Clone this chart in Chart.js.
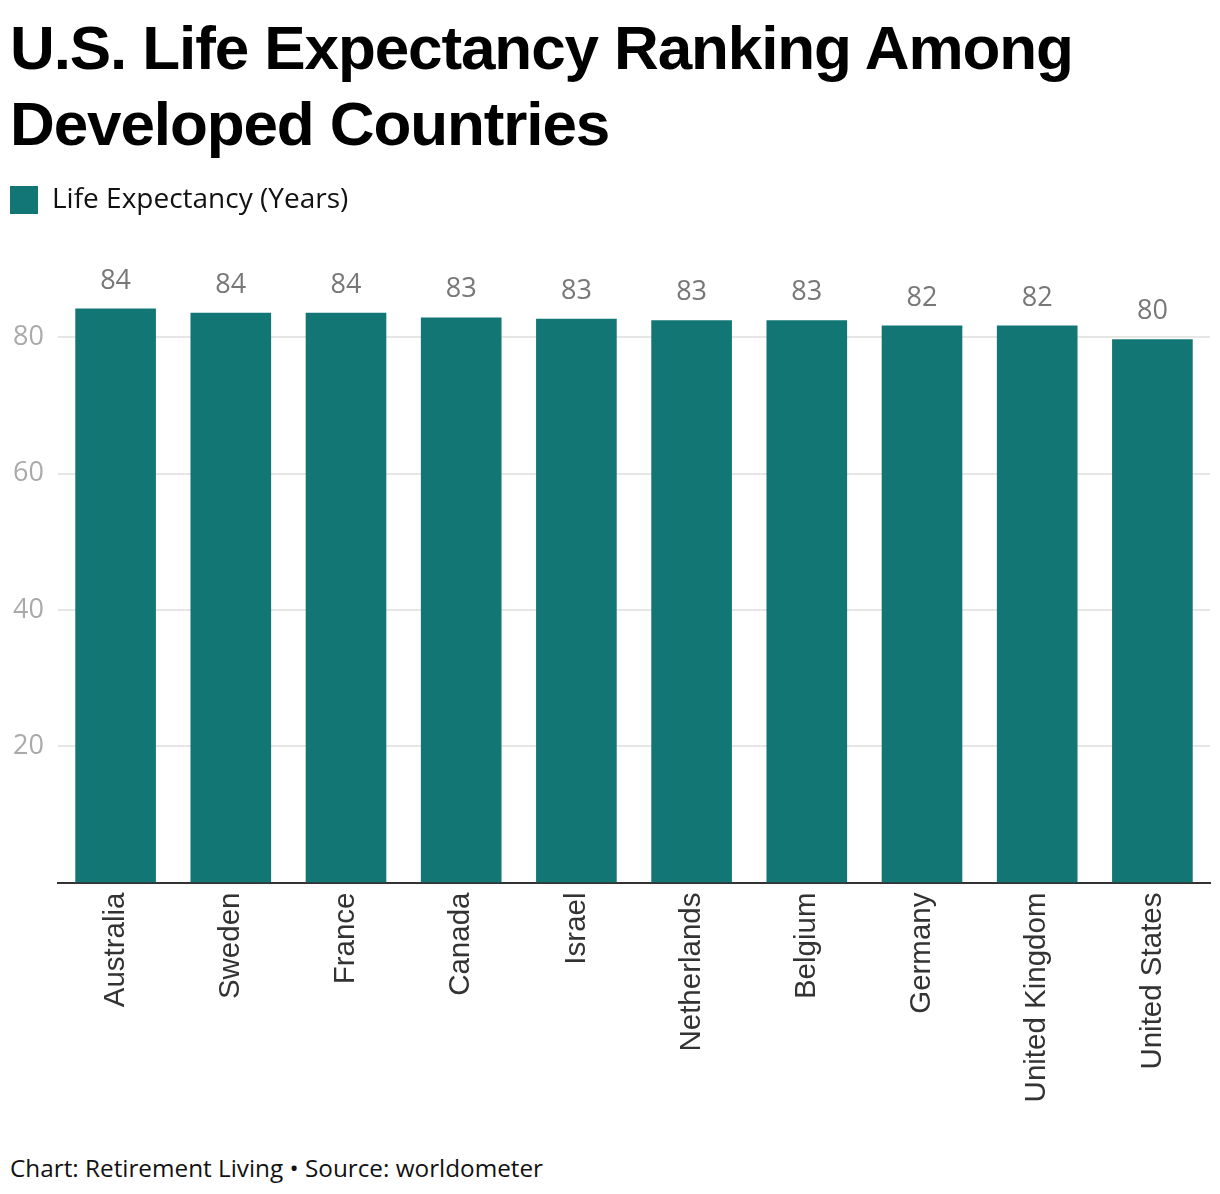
<!DOCTYPE html>
<html>
<head>
<meta charset="utf-8">
<script src="https://cdn.jsdelivr.net/npm/chart.js@4/dist/chart.umd.min.js"></script>
<style>
  html, body { margin: 0; padding: 0; background: #fff; }
  body { width: 1220px; height: 1194px; position: relative; overflow: hidden; }
  #title { position: absolute; left: 10px; top: 10px; font-family: "Liberation Sans", Arial, sans-serif; font-weight: 700; font-size: 62px; line-height: 76px; letter-spacing: -1.1px; color: #000; margin: 0; }
  #wrap { position: absolute; left: 0; top: 176px; width: 1220px; height: 947px; }
  #footer { position: absolute; left: 10px; top: 1156px; font-family: "Open Sans", sans-serif; font-size: 24.3px; line-height: 24px; color: #111; }
</style>
</head>
<body>
<div id="title">U.S. Life Expectancy Ranking Among<br>Developed Countries</div>
<div id="wrap"><canvas id="c"></canvas></div>
<div id="footer">Chart: Retirement Living • Source: worldometer</div>
<script>
const categories = ["Australia", "Sweden", "France", "Canada", "Israel", "Netherlands", "Belgium", "Germany", "United Kingdom", "United States"];
const lifeExpectancy = [84.2, 83.6, 83.6, 82.9, 82.7, 82.5, 82.5, 81.7, 81.7, 79.7];
const seriesName = "Life Expectancy (Years)";
const yTicks = [20, 40, 60, 80];

const legendGap = {
  id: 'legendGap',
  beforeInit(chart) {
    const orig = chart.legend.fit;
    chart.legend.fit = function () { orig.bind(chart.legend)(); this.height += 45; };
  }
};

const valueLabels = {
  id: 'valueLabels',
  afterDatasetsDraw(chart) {
    const ctx = chart.ctx;
    const meta = chart.getDatasetMeta(0);
    ctx.save();
    ctx.font = '27px "Open Sans", sans-serif';
    ctx.fillStyle = '#777777';
    ctx.textAlign = 'center';
    ctx.textBaseline = 'alphabetic';
    meta.data.forEach((bar, i) => {
      const v = chart.data.datasets[0].data[i];
      ctx.fillText(String(Math.round(v)), bar.x, bar.y - 20);
    });
    ctx.restore();
  }
};

new Chart(document.getElementById('c'), {
  type: 'bar',
  data: {
    labels: categories,
    datasets: [{
      label: seriesName,
      data: lifeExpectancy,
      backgroundColor: '#117674',
      borderWidth: 0,
      categoryPercentage: 1.0,
      barPercentage: 0.7
    }]
  },
  options: {
    responsive: true,
    maintainAspectRatio: false,
    animation: false,
    layout: { padding: { left: 0, right: 10, top: 0, bottom: 0 } },
    plugins: {
      legend: {
        display: true,
        position: 'top',
        align: 'start',
        labels: {
          boxWidth: 28,
          boxHeight: 28,
          padding: 10,
          color: '#111',
          font: { family: '"Open Sans", sans-serif', size: 28 }
        }
      },
      tooltip: { enabled: false },
      title: { display: false }
    },
    scales: {
      x: {
        grid: { display: false, drawTicks: false },
        border: { display: true, color: '#333333', width: 2 },
        ticks: {
          minRotation: 90,
          maxRotation: 90,
          autoSkip: false,
          padding: 10,
          color: '#333333',
          font: { family: '"Liberation Sans", Arial, sans-serif', size: 29.5 }
        },
        afterFit(scale) { scale.height = 240.5; }
      },
      y: {
        min: 0,
        max: 90,
        grid: { color: '#e6e6e6', lineWidth: 2, drawTicks: false },
        border: { display: false },
        afterBuildTicks(scale) { scale.ticks = yTicks.map(v => ({ value: v })); },
        ticks: {
          padding: 14,
          color: '#aaaaaa',
          font: { family: '"Open Sans", sans-serif', size: 27 }
        },
        afterFit(scale) { scale.width = 58; }
      }
    }
  },
  plugins: [legendGap, valueLabels]
});
</script>
</body>
</html>
